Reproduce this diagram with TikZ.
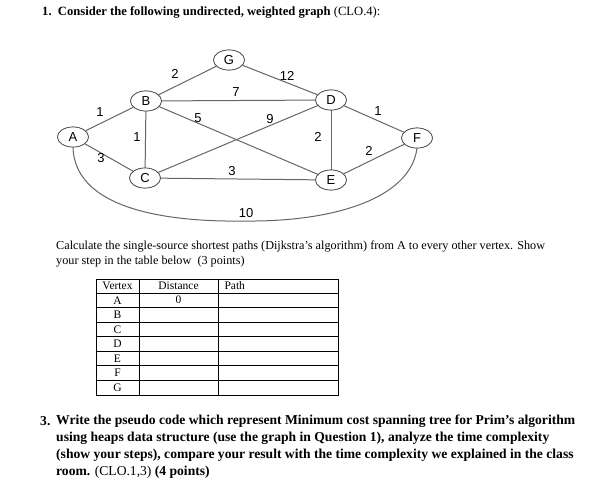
\documentclass[tikz,border=0pt]{standalone}
\usepackage{fontspec}
\setmainfont{Liberation Serif}
\newfontfamily\gf{Liberation Sans}
\usetikzlibrary{shapes.geometric}
\begin{document}
\begin{tikzpicture}[x=1pt,y=-1pt,
  vtx/.style={ellipse,draw=black!70,line width=0.7pt,minimum width=31pt,minimum height=20pt,inner sep=0pt,font=\gf\fontsize{13}{13}\selectfont,fill=white},
  edge/.style={draw=black!60,line width=1pt},
  wl/.style={font=\gf\fontsize{13}{13}\selectfont},
  cell/.style={font=\fontsize{11.5}{12}\selectfont},
  txt/.style={anchor=west,inner sep=0pt,font=\fontsize{12.2}{14}\selectfont}]
\useasboundingbox[fill=white] (0,0) rectangle (604,482);
\node[txt,font=\fontsize{12.6}{14}\selectfont] (t1) at (42,12) {\textbf{1.\ \ Consider the following undirected, weighted graph} (CLO.4):};
% graph
\node[vtx] (G) at (229,60) {G};
\node[vtx] (B) at (146,101) {B};
\node[vtx] (D) at (331,100) {D};
\node[vtx] (A) at (73,137) {A};
\node[vtx] (F) at (417,138) {F};
\node[vtx] (C) at (145,178) {C};
\node[vtx] (E) at (331,180) {E};
\draw[edge] (A) -- (B);
\draw[edge] (A) -- (C);
\draw[edge] (B) -- (G);
\draw[edge] (G) -- (D);
\draw[edge] (B) -- (D);
\draw[edge] (B) -- (C);
\draw[edge] (B) -- (E);
\draw[edge] (C) -- (D);
\draw[edge] (C) -- (E);
\draw[edge] (D) -- (E);
\draw[edge] (D) -- (F);
\draw[edge] (E) -- (F);
\draw[edge] (A.south) .. controls (75,215) and (185,222) .. (245,221) .. controls (330,222) and (410,200) .. (F.south);
\foreach \n in {G,B,D,A,F,C,E} \node[vtx] at (\n) {\n};
\node[wl] (w1) at (100,112) {1};
\node[wl] (w2) at (175,74) {2};
\node[wl] (w3) at (101,158) {3};
\node[wl] (w4) at (236,92) {7};
\node[wl] (w5) at (198,118) {5};
\node[wl] (w6) at (287,76) {12};
\node[wl] (w7) at (270,119) {9};
\node[wl] (w8) at (137,137) {1};
\node[wl] (w9) at (318,137) {2};
\node[wl] (w10) at (378,111) {1};
\node[wl] (w11) at (369,151) {2};
\node[wl] (w12) at (232,171) {3};
\node[wl] (w13) at (246,213) {10};
% paragraph
\node[txt] (p1) at (56,247) {Calculate the single-source shortest paths (Dijkstra's algorithm) from A to every other vertex. Show};
\node[txt] (p2) at (56,262) {your step in the table below\ \ (3 points)};
% table
\draw[black,line width=0.6pt] (96,279) rectangle (338,395);
\foreach \y in {293,307.5,322,336.5,351,365.5,380} \draw[black,line width=0.6pt] (96,\y) -- (338,\y);
\draw[black,line width=0.6pt] (139,279) -- (139,395);
\draw[black,line width=0.6pt] (218,279) -- (218,395);
\node[cell] (h1) at (117.5,286) {Vertex};
\node[cell] (h2) at (178.5,286) {Distance};
\node[cell,anchor=west] (h3) at (221,286) {Path};
\foreach \v [count=\i] in {A,B,C,D,E,F,G} \node[cell] at (117.5,293+14.5*\i-7.25) {\v};
\node[cell] (z) at (178.5,300) {0};
% question 3
\begin{scope}[every node/.style={txt,font=\fontsize{13.6}{15}\selectfont\bfseries}]
\node (q0) at (40,421) {3.};
\node (q1) at (56,421) {Write the pseudo code which represent Minimum cost spanning tree for Prim's algorithm};
\node (q2) at (56,438) {using heaps data structure (use the graph in Question 1), analyze the time complexity};
\node (q3) at (56,455) {(show your steps), compare your result with the time complexity we explained in the class};
\node (q4) at (56,472) {room. \mdseries(CLO.1,3) \bfseries(4 points)};
\end{scope}
\end{tikzpicture}
\end{document}
